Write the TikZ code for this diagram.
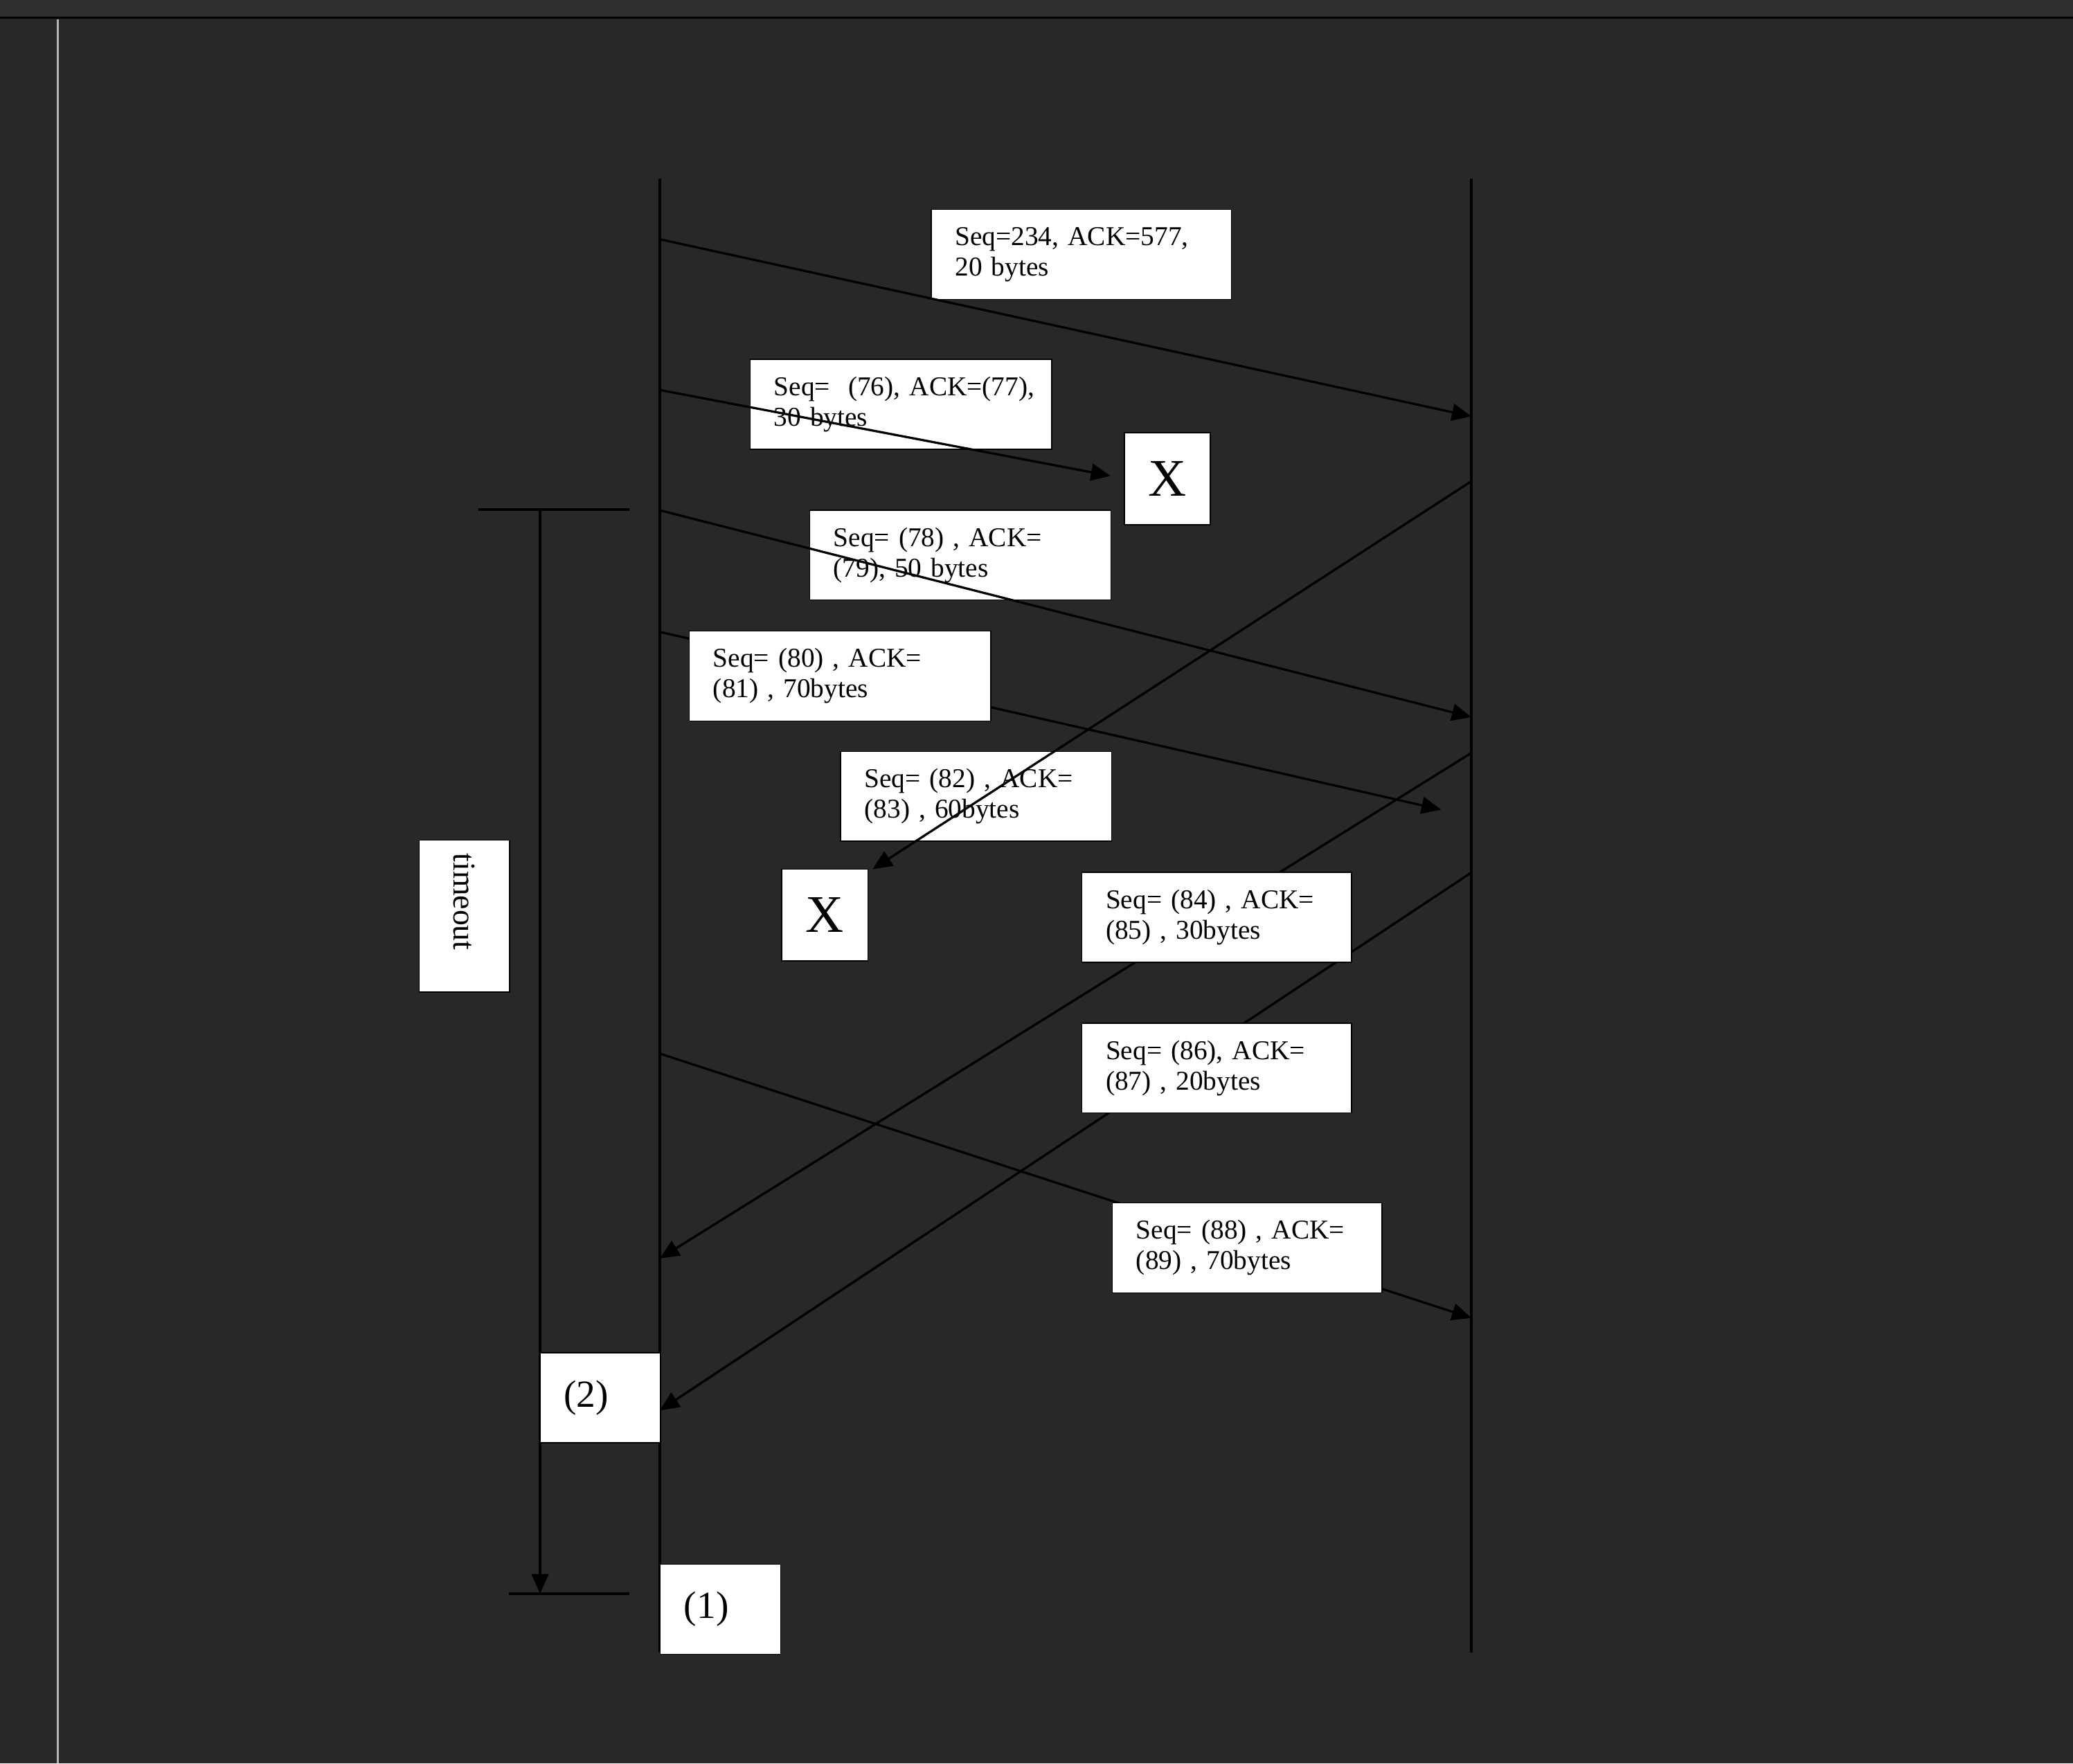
\documentclass[tikz,border=0pt]{standalone}
\usepackage{fontspec}
\setmainfont{Liberation Serif}
\usetikzlibrary{arrows.meta}

\definecolor{bgdark}{HTML}{282828}
\definecolor{bgtop}{HTML}{2F2F2F}
\definecolor{rulegray}{HTML}{B4B4B4}

\tikzset{
	msg/.style={draw=black, line width=0.4pt, fill=white, anchor=north west, align=left,
		text width=#1, inner xsep=9pt, inner ysep=0pt, minimum height=34pt,
		font=\fontsize{10.3}{11.5}\selectfont},
	lost/.style={draw=black, line width=0.4pt, fill=white, anchor=north west, inner sep=0pt,
		minimum width=32.5pt, minimum height=34.75pt, font=\fontsize{20}{20}\selectfont},
	tagbox/.style={draw=black, line width=0.4pt, fill=white, anchor=north west, align=left,
		text width=27.5pt, inner xsep=9pt, inner ysep=0pt, minimum height=34pt,
		font=\fontsize{14.5}{14.5}\selectfont},
	arr/.style={-{Triangle[length=7.4pt,width=6.4pt]}, line width=0.85pt, black},
	life/.style={line width=1pt, black}
}

\begin{document}
\begin{tikzpicture}[x=0.5pt, y=-0.5pt]
	\useasboundingbox (0,0) rectangle (1568,1334);
	% page background
	\fill[bgdark] (0,0) rectangle (1568,1334);
	\fill[bgtop] (0,0) rectangle (1568,13);
	\draw[black, line width=0.8pt] (0,13.5) -- (1568,13.5);
	\draw[rulegray, line width=0.8pt] (43.5,14.5) -- (43.5,1334);

	% labels lying under the arrows
	\node[msg=95.5pt] (seq234) at (704,158) {Seq=234, ACK=577,\\20 bytes};
	\node[msg=96pt] (seq76) at (567,271.5) {\mbox{Seq=\ \ (76), ACK=(77),}\\30 bytes};
	\node[msg=96pt] (seq78) at (612,385.5) {Seq= (78) , ACK=\\(79), 50 bytes};
	\node[msg=84.5pt] (seq82) at (635.5,568) {Seq= (82) , ACK=\\(83) , 60bytes};

	% the two hosts
	\coordinate (ltop) at (499,135);
	\coordinate (lbot) at (499,1250);
	\coordinate (rtop) at (1113,135);
	\coordinate (rbot) at (1113,1250);
	\draw[life] (ltop) -- (lbot);
	\draw[life] (rtop) -- (rbot);

	% segment ends
	\coordinate (s1) at (499,181);   \coordinate (t1) at (1113,315);
	\coordinate (s2) at (499,295);   \coordinate (t2) at (840,360);
	\coordinate (s3) at (499,386);   \coordinate (t3) at (1113,542.5);
	\coordinate (s4) at (499,478);   \coordinate (t4) at (1090,612.5);
	\coordinate (s5) at (1113,364);  \coordinate (t5) at (660,657.5);
	\coordinate (s6) at (1113,569.5);\coordinate (t6) at (499,952);
	\coordinate (s7) at (1113,660);  \coordinate (t7) at (499,1067);
	\coordinate (s8) at (499,797);   \coordinate (t8) at (1113,997);
	\draw[arr] (s1) -- (t1);
	\draw[arr] (s2) -- (t2);
	\draw[arr] (s3) -- (t3);
	\draw[arr] (s4) -- (t4);
	\draw[arr] (s5) -- (t5);
	\draw[arr] (s6) -- (t6);
	\draw[arr] (s7) -- (t7);
	\draw[arr] (s8) -- (t8);

	% timeout interval
	\coordinate (ttl) at (362,385.5);   \coordinate (ttr) at (476,385.5);
	\coordinate (tbl) at (385,1205.5);  \coordinate (tbr) at (476,1205.5);
	\coordinate (tt) at (408.5,385.5);  \coordinate (tb) at (408.5,1205.5);
	\draw[life] (ttl) -- (ttr);
	\draw[life] (tbl) -- (tbr);
	\draw[arr, line width=1pt] (tt) -- (tb);

	% labels lying over the arrows
	\node[msg=96pt] (seq80) at (521,477) {Seq= (80) , ACK=\\(81) , 70bytes};
	\node[msg=84pt] (seq84) at (818,659.5) {Seq= (84) , ACK=\\(85) , 30bytes};
	\node[msg=84pt] (seq86) at (818,773.5) {Seq= (86), ACK=\\(87) , 20bytes};
	\node[msg=84pt] (seq88) at (841,909.5) {Seq= (88) , ACK=\\(89) , 70bytes};
	\node[lost] (x1) at (850,327) {X};
	\node[lost] (x2) at (591,657) {X};
	\node[draw=black, line width=0.4pt, fill=white, rotate=-90, align=left,
		text width=47.5pt, inner xsep=5pt, inner ysep=0pt, minimum height=34.25pt,
		font=\fontsize{12}{12}\selectfont] (timeout) at (351.25,693) {timeout};
	\node[tagbox] (two) at (408,1023) {(2)};
	\node[tagbox] (one) at (499,1183) {(1)};
\end{tikzpicture}
\end{document}
